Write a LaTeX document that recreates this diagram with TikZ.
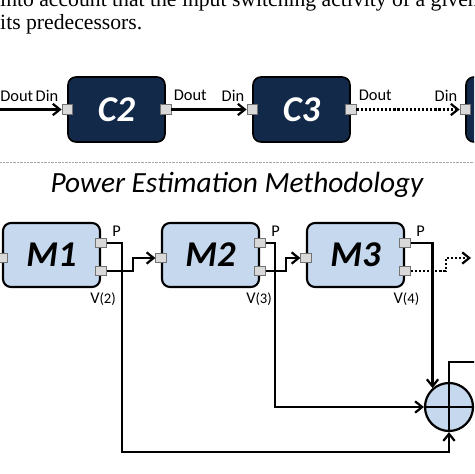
\documentclass[tikz,border=0pt]{standalone}
\usepackage{fontspec}
\setmainfont{Liberation Serif}
\newfontfamily\diagfont{Carlito}
\usetikzlibrary{arrows.meta,positioning,calc}

\definecolor{cnavy}{HTML}{12294A}
\definecolor{mblue}{HTML}{C6D8EE}
\definecolor{portgray}{HTML}{D9D9D9}

\tikzset{
  cblock/.style={draw=black, fill=cnavy, rounded corners=2.4mm, line width=1.4pt,
    minimum width=29.1mm, minimum height=19.5mm, text=white,
    font=\diagfont\fontsize{31}{31}\selectfont\bfseries\itshape},
  mblock/.style={draw=black, fill=mblue, rounded corners=2.4mm, line width=1.8pt,
    minimum width=29.1mm, minimum height=19.2mm,
    font=\diagfont\fontsize{31}{31}\selectfont\bfseries\itshape},
  port/.style={draw=black!55, fill=portgray, line width=0.7pt,
    minimum width=3.1mm, minimum height=2.8mm, inner sep=0pt},
  sig/.style={line width=1.9pt, -{Straight Barb[length=2.1mm,width=3.4mm]}},
  lbl/.style={font=\diagfont\fontsize{14}{14}\selectfont, inner sep=1pt},
  sumnode/.style={circle, draw=black, fill=mblue, line width=1.9pt,
    minimum size=14.4mm, inner sep=0pt},
}

\begin{document}
\begin{tikzpicture}[x=0.3mm,y=-0.3mm]

  % frame of the cut-out
  \useasboundingbox (0,0) rectangle (474,474);
  \clip (0,0) rectangle (474,474);

  % ---- text of the paper above ----
  \node[anchor=base west, inner sep=0pt, font=\fontsize{18.5}{22}\selectfont]
    (line1) at (0,7) {into account that the input switching activity of a given};
  \node[anchor=base west, inner sep=0pt, font=\fontsize{18.5}{22}\selectfont]
    (line2) at (0,30) {its predecessors.};

  % ---- chain of circuit blocks ----
  \coordinate (c1out) at (-1,109.5);
  \node[cblock] (c2) at (116.5,109.5) {C2};
  \node[cblock] (c3) at (301.5,109.5) {C3};
  \node[cblock] (c4) at (514.5,109.5) {};

  \node[port] (c2in)  at (c2.west) {};
  \node[port] (c2out) at (c2.east) {};
  \node[port] (c3in)  at (c3.west) {};
  \node[port] (c3out) at (c3.east) {};
  \node[port] (c4in)  at (c4.west) {};

  \draw[sig] (c1out) -- (c2in.west);
  \draw[sig] (c2out.east) -- (c3in.west);
  \draw[sig, dash pattern=on 1.9pt off 1.6pt] (c3out.east) -- (c4in.west);

  \node[lbl, above right=2mm and 0mm of c1out] {Dout};
  \node[lbl, above left=0.6mm and 0.6mm of c2in.north west] {Din};
  \node[lbl, above right=0.6mm and 0.3mm of c2out.north east] {Dout};
  \node[lbl, above left=0.6mm and 0.3mm of c3in.north west] {Din};
  \node[lbl, above right=0.6mm and 0.3mm of c3out.north east] {Dout};
  \node[lbl, above left=0.6mm and 0.3mm of c4in.north west] {Din};

  % ---- separator ----
  \draw[gray!70, line width=0.6pt, dash pattern=on 0.6pt off 0.6pt] (0,162) -- (474,162);

  \node[anchor=base, font=\diagfont\itshape\fontsize{25}{30}\selectfont]
    (title) at (237,192) {Power Estimation Methodology};

  % ---- model blocks ----
  \node[mblock] (m1) at (51.5,255)  {M1};
  \node[mblock] (m2) at (210.5,255) {M2};
  \node[mblock] (m3) at (355.5,255) {M3};

  \foreach \m in {m1,m2,m3} {
    \node[port] (\m in) at ([yshift=-0.9mm]\m.west) {};
    \node[port] (\m p)  at ([yshift=3.6mm]\m.east) {};
    \node[port] (\m v)  at ([yshift=-4.8mm]\m.east) {};
    \node[lbl, above right=0pt and 1.3mm of \m p.north east] {P};
  }
  \node[lbl, below=4.6mm of m1v, xshift=0.6mm] {V{\fontsize{12.5}{12.5}\selectfont(2)}};
  \node[lbl, below=4.6mm of m2v, xshift=-0.3mm] {V{\fontsize{12.5}{12.5}\selectfont(3)}};
  \node[lbl, below=4.6mm of m3v, xshift=0.4mm] {V{\fontsize{12.5}{12.5}\selectfont(4)}};

  % ---- adder ----
  \node[sumnode] (sum) at (449,407) {};
  \draw[line width=1.9pt] (sum.north) -- (sum.south) (sum.west) -- (sum.east);

  \coordinate (b1) at (122,452);
  \coordinate (b2) at (275,407);
  \coordinate (m4in) at (471,258);
  \coordinate (sumout) at (480,362);

  % V chain
  \draw[sig] (m1v.east) -- ++(26,0) |- (m2in.west);
  \draw[sig] (m2v.east) -- ++(20,0) |- (m3in.west);
  \draw[sig, dash pattern=on 1.9pt off 1.6pt] (m3v.east) -- ++(35,0) |- (m4in);

  % P into the adder
  \draw[sig] (m1p.east) -| (b1) -| (sum.south);
  \draw[sig] (m2p.east) -| (b2) -- (sum.west);
  \draw[sig] (m3p.east) -| (sum.131.8);
  \draw[line width=1.9pt] (sum.north) |- (sumout);

\end{tikzpicture}
\end{document}
